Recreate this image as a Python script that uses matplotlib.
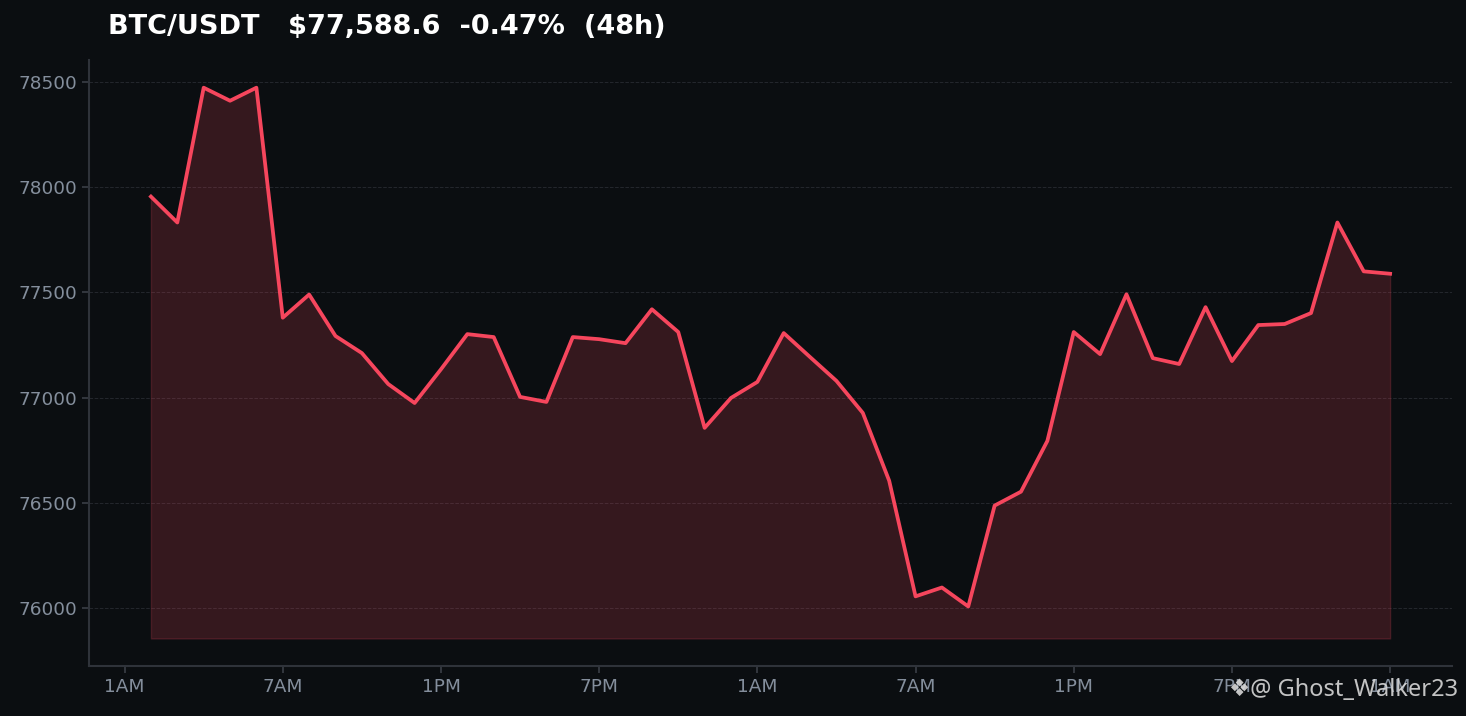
import numpy as np
import matplotlib.pyplot as plt

# hourly BTC/USDT closes, 2AM day 1 -> 1AM day 3
prices = [77955, 77832, 78472, 78410, 78472, 77380, 77490, 77293, 77212, 77065,
          76975, 77135, 77302, 77288, 77004, 76980, 77288, 77278, 77259, 77420,
          77312, 76857, 76999, 77075, 77307, 77193, 77080, 76928, 76606, 76057,
          76099, 76009, 76488, 76554, 76795, 77312, 77207, 77491, 77188, 77160,
          77430, 77174, 77345, 77350, 77402, 77832, 77600, 77588.6]
hours = np.arange(len(prices))
tick_pos = [-1, 5, 11, 17, 23, 29, 35, 41, 47]
tick_labels = ['1AM', '7AM', '1PM', '7PM', '1AM', '7AM', '1PM', '7PM', '1AM']
title = 'BTC/USDT   $77,588.6  -0.47%  (48h)'

bg = '#0b0e11'
red = '#f6465d'
muted = '#848e9c'

fig = plt.figure(figsize=(14.66, 7.16), dpi=100, facecolor=bg)
ax = fig.add_axes([0.0607, 0.0698, 0.9298, 0.8462], facecolor=bg)

base = min(prices) * 0.998
ax.fill_between(hours, prices, base, color=red, alpha=0.18, linewidth=1)
ax.plot(hours, prices, color=red, linewidth=2.7)

ax.set_xticks(tick_pos)
ax.set_xticklabels(tick_labels)
ax.set_yticks(np.arange(76000, 78501, 500))
ax.tick_params(axis='both', colors='#3a3f47', labelcolor=muted,
               labelsize=13.3, length=5, width=1.2)

ax.grid(axis='y', color='#24272d', linestyle='--', linewidth=0.7)
ax.set_axisbelow(True)
for s in ['top', 'right']:
    ax.spines[s].set_visible(False)
for s in ['left', 'bottom']:
    ax.spines[s].set_color('#2f333a')
    ax.spines[s].set_linewidth(1.5)

fig.text(108 / 1466, 1 - 27 / 716, title, color='white', fontsize=19.5,
         fontweight='bold', ha='left', va='center')

# watermark over the last tick labels, as in the source image
fig.text(1458 / 1466, 1 - 690 / 716, '\u2756@ Ghost_Walker23', color='#d8d8d8',
         alpha=0.9, fontsize=17, family=['Noto Sans', 'DejaVu Sans'],
         ha='right', va='center')

fig.savefig('out.png', dpi=100, facecolor=bg)
